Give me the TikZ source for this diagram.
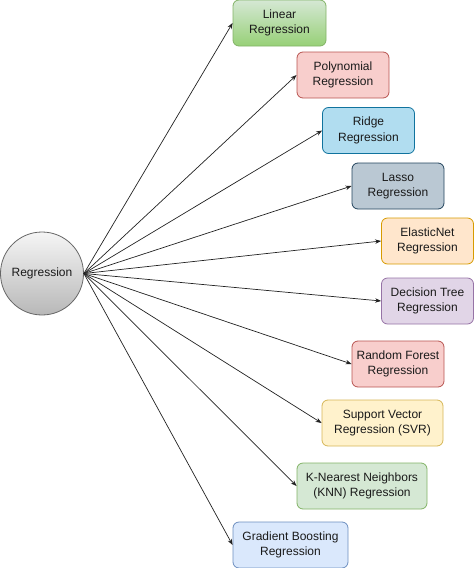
\documentclass[tikz,border=0pt]{standalone}
\usepackage{fontspec}
\setmainfont{Liberation Sans}
\usetikzlibrary{arrows.meta}
\definecolor{lingreenT}{HTML}{D5E8D4}
\definecolor{lingreenB}{HTML}{97D077}
\definecolor{greenD}{HTML}{82B366}
\definecolor{redF}{HTML}{F8CECC}
\definecolor{redD}{HTML}{B85450}
\definecolor{blueF}{HTML}{B1DDF0}
\definecolor{blueD}{HTML}{10739E}
\definecolor{grayF}{HTML}{BAC8D3}
\definecolor{grayD}{HTML}{23445D}
\definecolor{orangeF}{HTML}{FFE6CC}
\definecolor{orangeD}{HTML}{D79B00}
\definecolor{purpleF}{HTML}{E1D5E7}
\definecolor{purpleD}{HTML}{9673A6}
\definecolor{yellowF}{HTML}{FFF2CC}
\definecolor{yellowD}{HTML}{D6B656}
\definecolor{greenF}{HTML}{D5E8D4}
\definecolor{lblueF}{HTML}{DAE8FC}
\definecolor{lblueD}{HTML}{6C8EBF}
\definecolor{circT}{HTML}{F5F5F5}
\definecolor{circB}{HTML}{B8B8B8}
\definecolor{circD}{HTML}{666666}
\definecolor{edgeC}{HTML}{222222}
\definecolor{txt}{HTML}{1A1A1A}
\begin{document}
\begin{tikzpicture}[x=1pt,y=-1pt,
  box/.style={draw, rounded corners=6pt, line width=0.8pt, minimum width=92pt, minimum height=46pt, align=center, font=\fontsize{12}{15.5}\selectfont, text=txt, inner sep=2pt},
  conn/.style={draw=edgeC, line width=0.7pt, -{Stealth[length=6pt,width=4.5pt]}}]
\useasboundingbox (0,0) rectangle (474,568);
\node[circle, draw=circD, line width=0.8pt, top color=circT, bottom color=circB, minimum size=83pt, inner sep=0pt, font=\fontsize{12}{14}\selectfont, text=txt] (reg) at (42,273.5) {Regression};
\node[box, draw=greenD, top color=lingreenT, bottom color=lingreenB, minimum width=93pt] (lin) at (279.5,23) {Linear\\Regression};
\node[box, draw=redD, fill=redF] (poly) at (343,75) {Polynomial\\Regression};
\node[box, draw=blueD, fill=blueF] (ridge) at (368.5,130.5) {Ridge\\Regression};
\node[box, draw=grayD, fill=grayF] (lasso) at (398,186) {Lasso\\Regression};
\node[box, draw=orangeD, fill=orangeF] (elastic) at (427.5,241) {ElasticNet\\Regression};
\node[box, draw=purpleD, fill=purpleF] (dtree) at (427.5,301) {Decision Tree\\Regression};
\node[box, draw=redD, fill=redF] (rf) at (398,364) {Random Forest\\Regression};
\node[box, draw=yellowD, fill=yellowF, minimum width=121pt] (svr) at (382.5,423) {Support Vector\\Regression (SVR)};
\node[box, draw=greenD, fill=greenF, minimum width=130pt] (knn) at (362,486) {K-Nearest Neighbors\\(KNN) Regression};
\node[box, draw=lblueD, fill=lblueF, minimum width=115pt] (gb) at (290.5,545) {Gradient Boosting\\Regression};
\foreach \t in {lin,poly,ridge,lasso,elastic,dtree,rf,svr,knn,gb}
  \draw[conn] (reg.east) -- (\t.west);
\end{tikzpicture}
\end{document}
